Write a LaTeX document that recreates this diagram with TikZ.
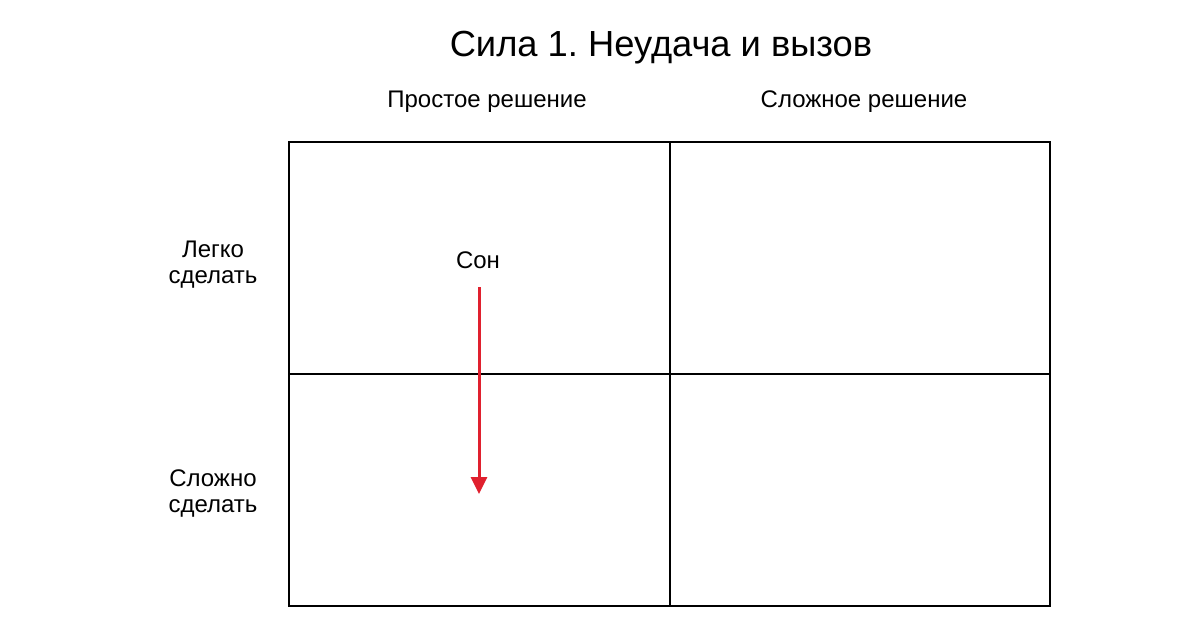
\documentclass[tikz,border=0pt]{standalone}
\usepackage{fontspec}
\setmainfont{Liberation Sans}
\usetikzlibrary{arrows.meta}
\frenchspacing
\definecolor{arrowred}{HTML}{E0202E}
\tikzset{
  gridline/.style={line width=2pt, black},
  lbl/.style={anchor=base, inner sep=0pt, font=\fontsize{24}{26}\selectfont},
  sidelbl/.style={anchor=north, inner sep=0pt, align=center, font=\fontsize{24}{26}\selectfont},
  ttl/.style={anchor=base, inner sep=0pt, font=\fontsize{36.3}{40}\selectfont},
  redarrow/.style={line width=3pt, arrowred, -{Triangle[width=16pt,length=17pt]}}
}
\begin{document}
\frenchspacing
\begin{tikzpicture}[x=1pt,y=-1pt]
\useasboundingbox (0,0) rectangle (1200,633);
\node[ttl] (title) at (661,56) {Сила 1. Неудача и вызов};
\node[lbl] (colA) at (487,107) {Простое решение};
\node[lbl] (colB) at (864,107) {Сложное решение};
\node[sidelbl] (rowA) at (213,241) {Легко\\сделать};
\node[sidelbl] (rowB) at (213,470) {Сложно\\сделать};
\draw[gridline] (289,142) rectangle (1050,606);
\draw[gridline] (670,142) -- (670,606);
\draw[gridline] (289,374) -- (1050,374);
\node[lbl] (son) at (478,268) {Сон};
\coordinate (aS) at (479,287);
\coordinate (aE) at (479,494);
\draw[redarrow] (aS) -- (aE);
\end{tikzpicture}
\end{document}
